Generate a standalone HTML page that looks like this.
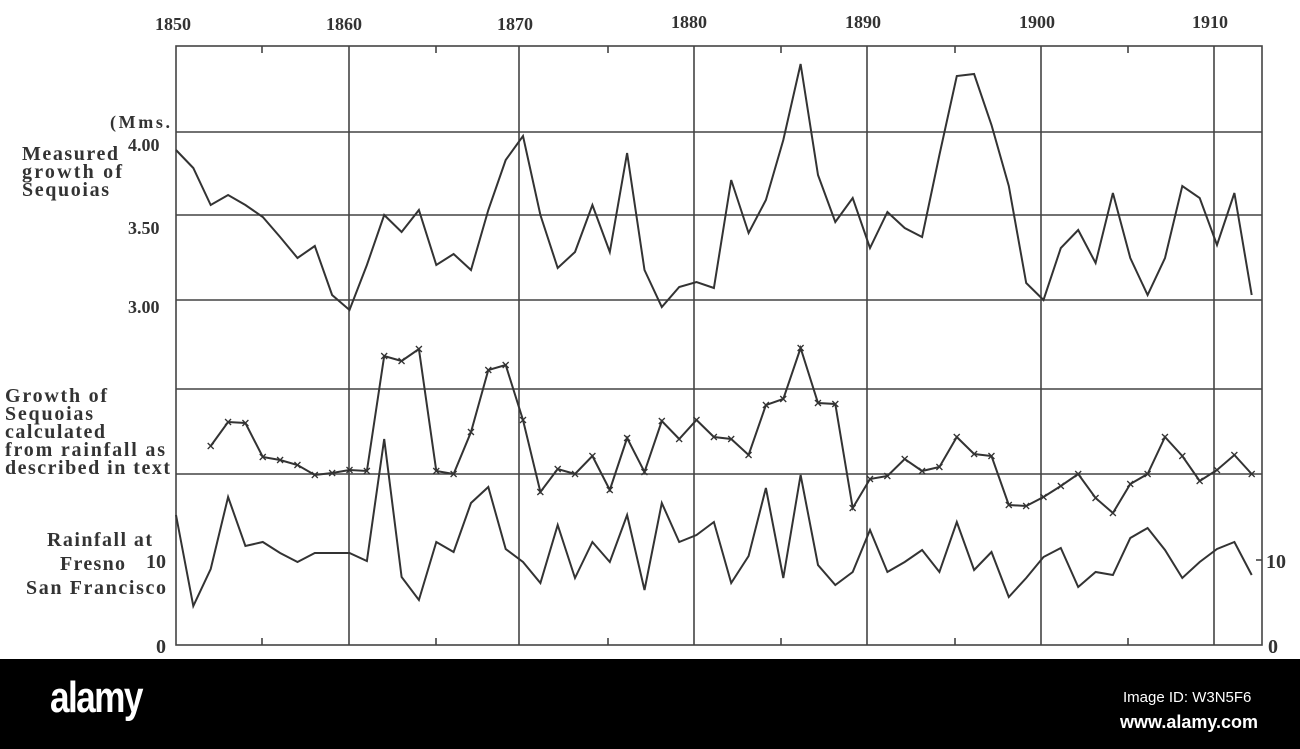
<!DOCTYPE html>
<html><head><meta charset="utf-8"><style>
html,body{margin:0;padding:0;background:#fff;}
body{width:1300px;height:749px;overflow:hidden;position:relative;font-family:"Liberation Serif",serif;}
svg text{font-family:"Liberation Serif",serif;font-weight:bold;fill:#333;}
#band{position:absolute;left:0;top:659px;width:1300px;height:90px;background:#000;}
</style></head><body>
<svg id="s" width="1300" height="659" style="position:absolute;left:0;top:0">
<g stroke="#444" stroke-width="1.6" fill="none">
<rect x="176" y="46" width="1086" height="599"/>
<line x1="349" y1="46" x2="349" y2="645"/><line x1="519" y1="46" x2="519" y2="645"/>
<line x1="694" y1="46" x2="694" y2="645"/><line x1="867" y1="46" x2="867" y2="645"/>
<line x1="1041" y1="46" x2="1041" y2="645"/><line x1="1214" y1="46" x2="1214" y2="645"/>
<line x1="176" y1="132" x2="1262" y2="132"/><line x1="176" y1="215" x2="1262" y2="215"/>
<line x1="176" y1="300" x2="1262" y2="300"/><line x1="176" y1="389" x2="1262" y2="389"/>
<line x1="176" y1="474" x2="1262" y2="474"/>
<line x1="262" y1="46" x2="262" y2="53"/><line x1="436" y1="46" x2="436" y2="53"/><line x1="608" y1="46" x2="608" y2="53"/><line x1="781" y1="46" x2="781" y2="53"/><line x1="955" y1="46" x2="955" y2="53"/><line x1="1128" y1="46" x2="1128" y2="53"/>
<line x1="262" y1="645" x2="262" y2="638"/><line x1="436" y1="645" x2="436" y2="638"/><line x1="608" y1="645" x2="608" y2="638"/><line x1="781" y1="645" x2="781" y2="638"/><line x1="955" y1="645" x2="955" y2="638"/><line x1="1128" y1="645" x2="1128" y2="638"/>
<line x1="1262" y1="560" x2="1256" y2="560"/>
</g>
<g id="series"></g>
<g font-size="18">
<text x="155" y="30">1850</text><text x="326" y="30">1860</text><text x="497" y="30">1870</text>
<text x="671" y="28">1880</text><text x="845" y="28">1890</text><text x="1019" y="28">1900</text><text x="1192" y="28">1910</text>
<text x="110" y="128" textLength="60">(Mms.</text>
<text x="128" y="151">4.00</text><text x="128" y="234">3.50</text><text x="128" y="313">3.00</text>
<text x="128" y="653" font-size="18"></text>
</g>
<g font-size="20">
<text x="22" y="160" textLength="96">Measured</text><text x="22" y="178" textLength="100">growth of</text><text x="22" y="196" textLength="87">Sequoias</text>
<text x="5" y="402" textLength="102">Growth of</text><text x="5" y="420" textLength="88">Sequoias</text><text x="5" y="438" textLength="100">calculated</text>
<text x="5" y="456" textLength="160">from rainfall as</text><text x="5" y="474" textLength="165">described in text</text>
<text x="47" y="546" textLength="105">Rainfall at</text><text x="60" y="570" fill="#777" textLength="65">Fresno</text><text x="146" y="568">10</text>
<text x="26" y="594" fill="#888" textLength="140">San Francisco</text>
<text x="156" y="653">0</text>
<text x="1266" y="568">10</text><text x="1268" y="653">0</text>
</g>
</svg>
<div id="band">
<div style="position:absolute;left:50px;top:14px;color:#fff;font-family:'Liberation Sans',sans-serif;font-weight:bold;font-size:44px;letter-spacing:-2px;transform:scaleX(0.8);transform-origin:left">alamy</div>
<div style="position:absolute;left:1123px;top:30px;color:#fff;font-family:'Liberation Sans',sans-serif;font-size:15px;">Image ID: W3N5F6</div>
<div style="position:absolute;left:1120px;top:53px;color:#fff;font-family:'Liberation Sans',sans-serif;font-size:18px;font-weight:bold;">www.alamy.com</div>
</div>
<script>
(function(){
var X=function(y){return 176+17.35*(y-1850);};
var meas=[150,168,205,195,205,217,237,258,246,295,310,265,215,232,210,265,254,270,210,160,136,215,268,252,205,252,153,270,307,287,282,288,180,233,200,140,64,175,222,198,248,212,228,237,155,76,74,125,186,283,300,248,230,263,193,258,295,258,186,198,245,193,295];
var calc=[446,422,423,457,460,465,475,473,470,471,356,361,349,471,474,432,370,365,420,492,469,474,456,490,438,472,421,439,420,437,439,455,405,399,348,403,404,508,479,476,459,471,467,437,454,456,505,506,497,486,474,498,513,484,474,437,456,481,470,455,474];
var rain=[515,606,569,497,546,542,553,562,553,553,553,561,439,577,600,542,552,503,487,549,562,583,525,578,542,562,515,590,503,542,535,522,583,556,488,578,475,565,585,572,530,572,562,550,572,522,570,552,597,578,557,548,587,572,575,538,528,550,578,562,549,542,575];
function pts(a,s){return a.map(function(v,i){return X(s+i).toFixed(1)+","+v;}).join(" ");}
var g='<polyline fill="none" stroke="#333" stroke-width="2" points="'+pts(meas,1850)+'"/>';
g+='<polyline fill="none" stroke="#333" stroke-width="2" points="'+pts(calc,1852)+'"/>';
g+='<polyline fill="none" stroke="#333" stroke-width="2" points="'+pts(rain,1850)+'"/>';
calc.forEach(function(v,i){var x=X(1852+i);g+='<path d="M'+(x-3)+' '+(v-3)+'L'+(x+3)+' '+(v+3)+'M'+(x-3)+' '+(v+3)+'L'+(x+3)+' '+(v-3)+'" stroke="#333" stroke-width="1.3"/>';});
document.getElementById('series').innerHTML=g;
})();
</script>
</body></html>
